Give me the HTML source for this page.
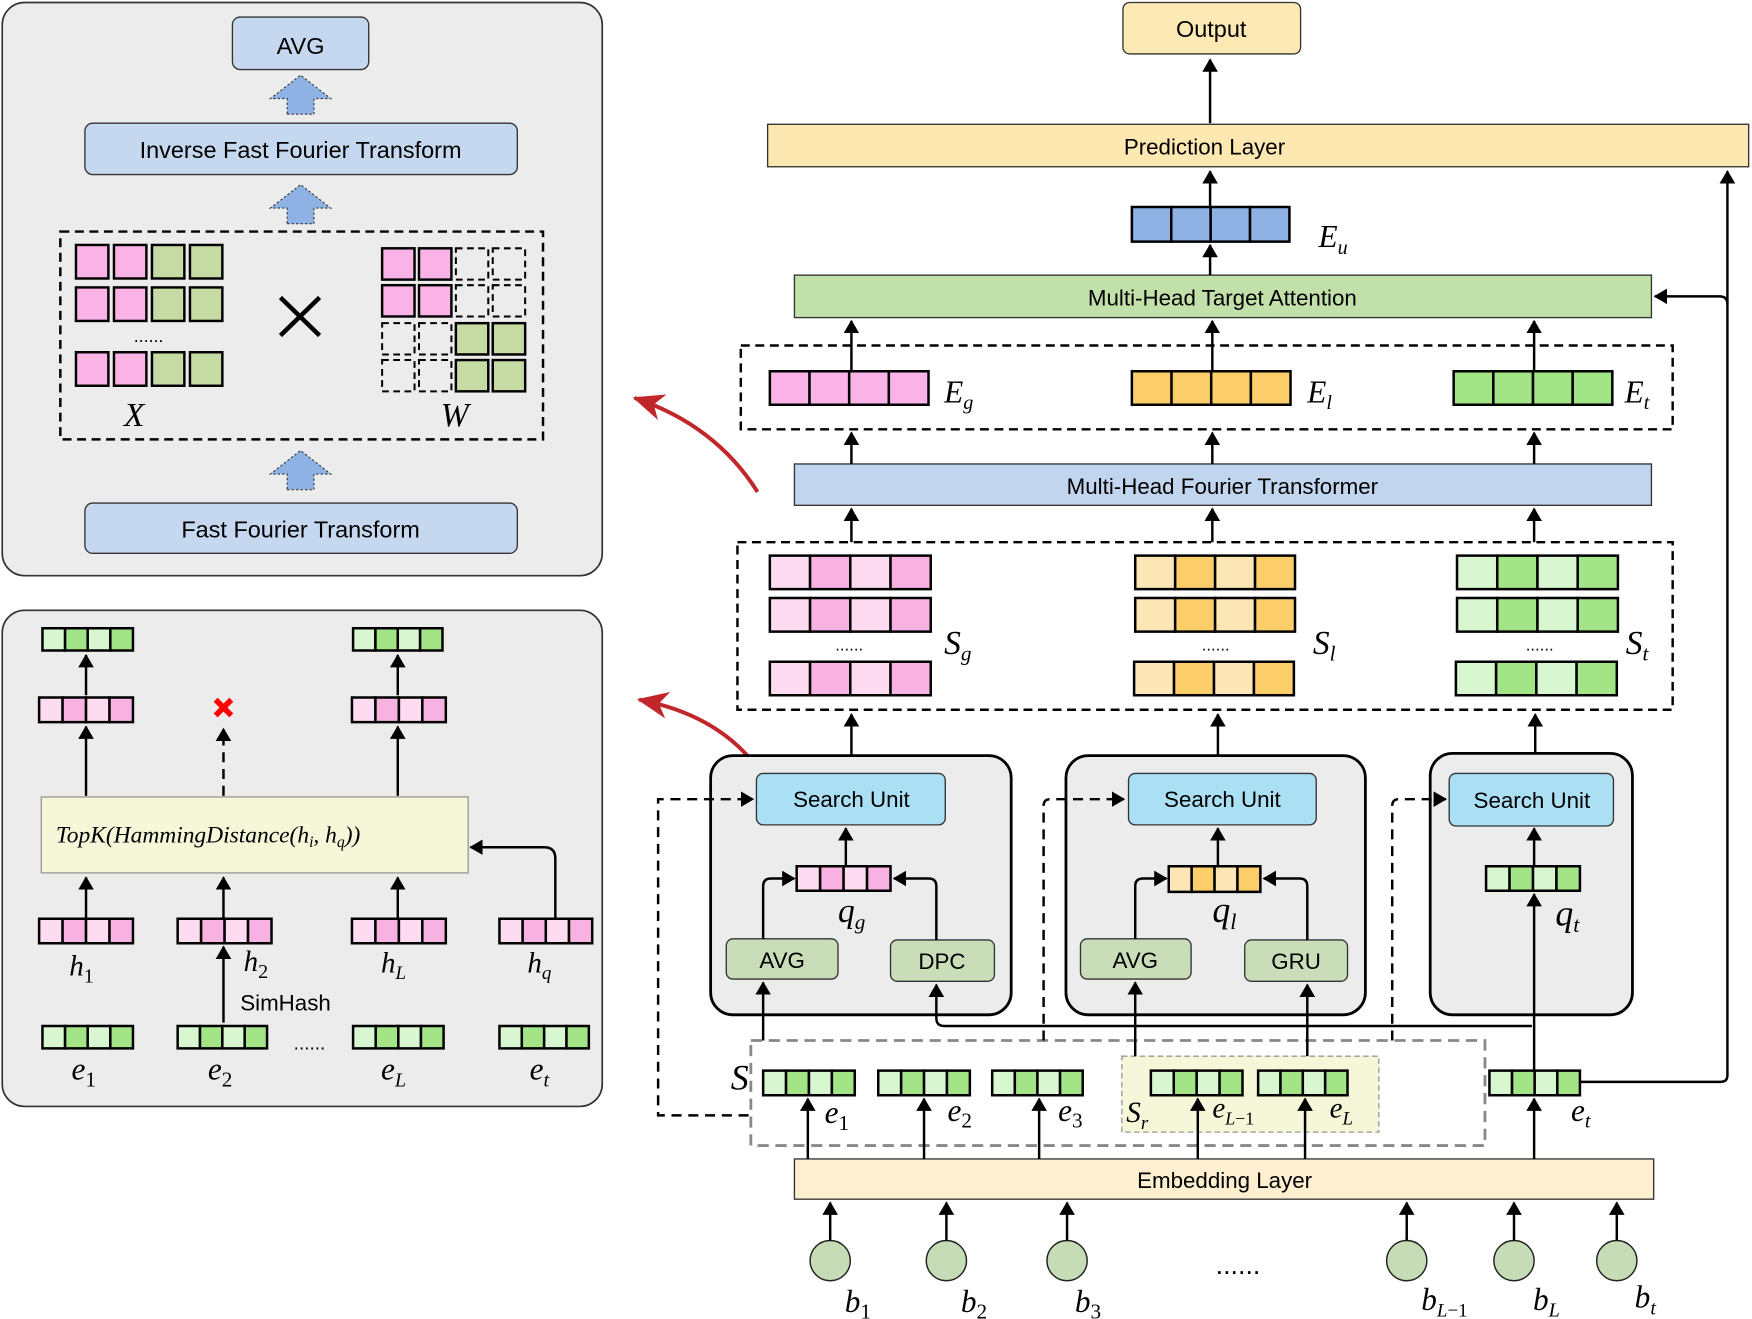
<!DOCTYPE html>
<html><head><meta charset="utf-8"><style>
html,body{margin:0;padding:0;background:#fff;}
svg{display:block;}
text{font-family:"Liberation Sans",sans-serif;fill:#000;}
.m{font-family:"Liberation Serif",serif;font-style:italic;}
symbol{overflow:visible;}
</style></head><body>
<svg width="1752" height="1319" viewBox="0 0 1568 1180" xmlns="http://www.w3.org/2000/svg">
<defs>
<marker id="a" markerUnits="userSpaceOnUse" markerWidth="12" markerHeight="16" refX="11" refY="7" orient="auto"><path d="M0,0 L12,7 L0,14 z" fill="#000"/></marker>
<marker id="r" markerUnits="userSpaceOnUse" markerWidth="30" markerHeight="26" refX="26" refY="12" orient="auto"><path d="M0,0 L28,12 L0,24 L8,12 z" fill="#c0262a"/></marker>
<symbol id="vg" viewBox="0 0 4 1" preserveAspectRatio="none"><g stroke="#000" stroke-width="2.5" vector-effect="non-scaling-stroke"><rect x="0" width="1" height="1" fill="#d8f6cf" vector-effect="non-scaling-stroke"/><rect x="1" width="1" height="1" fill="#a3e486" vector-effect="non-scaling-stroke"/><rect x="2" width="1" height="1" fill="#d8f6cf" vector-effect="non-scaling-stroke"/><rect x="3" width="1" height="1" fill="#a3e486" vector-effect="non-scaling-stroke"/></g></symbol>
<symbol id="vp" viewBox="0 0 4 1" preserveAspectRatio="none"><g stroke="#000" stroke-width="2.5"><rect x="0" width="1" height="1" fill="#fddcf2" vector-effect="non-scaling-stroke"/><rect x="1" width="1" height="1" fill="#f8b2e2" vector-effect="non-scaling-stroke"/><rect x="2" width="1" height="1" fill="#fddcf2" vector-effect="non-scaling-stroke"/><rect x="3" width="1" height="1" fill="#f8b2e2" vector-effect="non-scaling-stroke"/></g></symbol>
<symbol id="vo" viewBox="0 0 4 1" preserveAspectRatio="none"><g stroke="#000" stroke-width="2.5"><rect x="0" width="1" height="1" fill="#fde6b5" vector-effect="non-scaling-stroke"/><rect x="1" width="1" height="1" fill="#fbce6a" vector-effect="non-scaling-stroke"/><rect x="2" width="1" height="1" fill="#fde6b5" vector-effect="non-scaling-stroke"/><rect x="3" width="1" height="1" fill="#fbce6a" vector-effect="non-scaling-stroke"/></g></symbol>
<symbol id="sp" viewBox="0 0 4 1" preserveAspectRatio="none"><g stroke="#000" stroke-width="2.5" fill="#f9b3e6"><rect x="0" width="1" height="1" vector-effect="non-scaling-stroke"/><rect x="1" width="1" height="1" vector-effect="non-scaling-stroke"/><rect x="2" width="1" height="1" vector-effect="non-scaling-stroke"/><rect x="3" width="1" height="1" vector-effect="non-scaling-stroke"/></g></symbol>
<symbol id="so" viewBox="0 0 4 1" preserveAspectRatio="none"><g stroke="#000" stroke-width="2.5" fill="#fbce6a"><rect x="0" width="1" height="1" vector-effect="non-scaling-stroke"/><rect x="1" width="1" height="1" vector-effect="non-scaling-stroke"/><rect x="2" width="1" height="1" vector-effect="non-scaling-stroke"/><rect x="3" width="1" height="1" vector-effect="non-scaling-stroke"/></g></symbol>
<symbol id="sg" viewBox="0 0 4 1" preserveAspectRatio="none"><g stroke="#000" stroke-width="2.5" fill="#a3e486"><rect x="0" width="1" height="1" vector-effect="non-scaling-stroke"/><rect x="1" width="1" height="1" vector-effect="non-scaling-stroke"/><rect x="2" width="1" height="1" vector-effect="non-scaling-stroke"/><rect x="3" width="1" height="1" vector-effect="non-scaling-stroke"/></g></symbol>
<symbol id="sb" viewBox="0 0 4 1" preserveAspectRatio="none"><g stroke="#000" stroke-width="2.5" fill="#8db2e3"><rect x="0" width="1" height="1" vector-effect="non-scaling-stroke"/><rect x="1" width="1" height="1" vector-effect="non-scaling-stroke"/><rect x="2" width="1" height="1" vector-effect="non-scaling-stroke"/><rect x="3" width="1" height="1" vector-effect="non-scaling-stroke"/></g></symbol>
<path id="ba" d="M-12,0 L12,0 L12,-14 L27,-14 L0,-35 L-27,-14 L-12,-14 z" fill="#8db2e3" stroke="#333" stroke-width="1" stroke-dasharray="2,2"/>
</defs>

<!-- ===== Top-left panel ===== -->
<rect x="2" y="2" width="537" height="513" rx="20" fill="#ececec" stroke="#333" stroke-width="1.5"/>
<rect x="208" y="15" width="122" height="47" rx="7" fill="#c5d8ef" stroke="#333" stroke-width="1.2"/>
<text x="269" y="48" font-size="21" text-anchor="middle">AVG</text>
<use href="#ba" transform="translate(269,102)"/>
<rect x="76" y="110" width="387" height="46" rx="7" fill="#c5d8ef" stroke="#333" stroke-width="1.2"/>
<text x="269" y="141" font-size="21" text-anchor="middle">Inverse Fast Fourier Transform</text>
<use href="#ba" transform="translate(269,200)"/>
<rect x="54" y="207" width="432" height="186" fill="none" stroke="#000" stroke-width="2.2" stroke-dasharray="8,5"/>
<g stroke="#000" stroke-width="2.2">
<rect x="68" y="219" width="29" height="30" fill="#f9b3e6"/><rect x="102" y="219" width="29" height="30" fill="#f9b3e6"/><rect x="136" y="219" width="29" height="30" fill="#c6dba4"/><rect x="170" y="219" width="29" height="30" fill="#c6dba4"/>
<rect x="68" y="257" width="29" height="30" fill="#f9b3e6"/><rect x="102" y="257" width="29" height="30" fill="#f9b3e6"/><rect x="136" y="257" width="29" height="30" fill="#c6dba4"/><rect x="170" y="257" width="29" height="30" fill="#c6dba4"/>
<rect x="68" y="315" width="29" height="30" fill="#f9b3e6"/><rect x="102" y="315" width="29" height="30" fill="#f9b3e6"/><rect x="136" y="315" width="29" height="30" fill="#c6dba4"/><rect x="170" y="315" width="29" height="30" fill="#c6dba4"/>
<rect x="342" y="222" width="29" height="28" fill="#f9b3e6"/><rect x="375" y="222" width="29" height="28" fill="#f9b3e6"/>
<rect x="342" y="255" width="29" height="28" fill="#f9b3e6"/><rect x="375" y="255" width="29" height="28" fill="#f9b3e6"/>
<rect x="408" y="289" width="29" height="28" fill="#c6dba4"/><rect x="441" y="289" width="29" height="28" fill="#c6dba4"/>
<rect x="408" y="322" width="29" height="28" fill="#c6dba4"/><rect x="441" y="322" width="29" height="28" fill="#c6dba4"/>
</g>
<g stroke="#000" stroke-width="1.8" fill="none" stroke-dasharray="6,4">
<rect x="408" y="222" width="29" height="28"/><rect x="441" y="222" width="29" height="28"/>
<rect x="408" y="255" width="29" height="28"/><rect x="441" y="255" width="29" height="28"/>
<rect x="342" y="289" width="29" height="28"/><rect x="375" y="289" width="29" height="28"/>
<rect x="342" y="322" width="29" height="28"/><rect x="375" y="322" width="29" height="28"/>
</g>
<text x="133" y="306" font-size="16" text-anchor="middle">......</text>
<path d="M251,266 L286,300 M286,266 L251,300" stroke="#000" stroke-width="4"/>
<text x="120" y="381" font-size="30" class="m" text-anchor="middle">X</text>
<text x="407" y="381" font-size="30" class="m" text-anchor="middle">W</text>
<use href="#ba" transform="translate(269,438)"/>
<rect x="76" y="450" width="387" height="45" rx="7" fill="#c5d8ef" stroke="#333" stroke-width="1.2"/>
<text x="269" y="481" font-size="21" text-anchor="middle">Fast Fourier Transform</text>

<!-- ===== Bottom-left panel ===== -->
<rect x="2" y="546" width="537" height="444" rx="20" fill="#ececec" stroke="#333" stroke-width="1.5"/>
<use href="#vg" x="38" y="562" width="81" height="20"/>
<use href="#vg" x="316" y="562" width="80" height="20"/>
<use href="#vp" x="35" y="624" width="84" height="22"/>
<use href="#vp" x="315" y="624" width="84" height="22"/>
<path d="M193,626 L207,640 M207,626 L193,640" stroke="#f00" stroke-width="5"/>
<g stroke="#000" stroke-width="2.2" fill="none" marker-end="url(#a)">
<path d="M77,622 L77,586"/><path d="M356,622 L356,586"/>
<path d="M77,712 L77,650"/><path d="M356,712 L356,650"/>
<path d="M200,712 L200,652" stroke-dasharray="9,6"/>
<path d="M77,822 L77,785"/><path d="M200,822 L200,785"/><path d="M356,822 L356,785"/>
<path d="M200,915 L200,847"/>
<path d="M497,822 L497,768 Q497,758 487,758 L421,758"/>
</g>
<rect x="37" y="713" width="382" height="68" fill="#f6f6d8" stroke="#999" stroke-width="1.2"/>
<text x="50" y="754" font-size="21" class="m">TopK(HammingDistance(h<tspan font-size="14" dy="4">i</tspan><tspan dy="-4">, h</tspan><tspan font-size="14" dy="4">q</tspan><tspan dy="-4">))</tspan></text>
<use href="#vp" x="35" y="822" width="84" height="22"/>
<use href="#vp" x="159" y="822" width="84" height="22"/>
<use href="#vp" x="315" y="822" width="84" height="22"/>
<use href="#vp" x="447" y="822" width="83" height="22"/>
<text x="62" y="873" font-size="26" class="m">h<tspan font-size="18" dy="6" font-style="normal">1</tspan></text>
<text x="218" y="869" font-size="26" class="m">h<tspan font-size="18" dy="6" font-style="normal">2</tspan></text>
<text x="341" y="870" font-size="26" class="m">h<tspan font-size="17" dy="6">L</tspan></text>
<text x="472" y="870" font-size="26" class="m">h<tspan font-size="17" dy="6">q</tspan></text>
<text x="215" y="904" font-size="20">SimHash</text>
<use href="#vg" x="38" y="918" width="81" height="20"/>
<use href="#vg" x="159" y="918" width="80" height="20"/>
<use href="#vg" x="316" y="918" width="81" height="20"/>
<use href="#vg" x="447" y="918" width="80" height="20"/>
<text x="277" y="939" font-size="17" text-anchor="middle">......</text>
<text x="64" y="966" font-size="28" class="m">e<tspan font-size="19" dy="6" font-style="normal">1</tspan></text>
<text x="186" y="966" font-size="28" class="m">e<tspan font-size="19" dy="6" font-style="normal">2</tspan></text>
<text x="341" y="966" font-size="28" class="m">e<tspan font-size="18" dy="6">L</tspan></text>
<text x="474" y="966" font-size="28" class="m">e<tspan font-size="18" dy="6">t</tspan></text>

<!-- red arrows -->
<path d="M678,440 Q640,380 568,356" fill="none" stroke="#c0262a" stroke-width="3.5" marker-end="url(#r)"/>
<path d="M680,690 Q645,640 572,626" fill="none" stroke="#c0262a" stroke-width="3.5" marker-end="url(#r)"/>

<!-- ===== Right main ===== -->
<rect x="1005" y="2" width="159" height="46" rx="6" fill="#fce9b3" stroke="#333" stroke-width="1.2"/>
<text x="1084" y="33" font-size="21" text-anchor="middle">Output</text>
<rect x="687" y="111" width="878" height="38" fill="#fde8b2" stroke="#333" stroke-width="1.2"/>
<text x="1078" y="138" font-size="20" text-anchor="middle">Prediction Layer</text>
<use href="#sb" x="1013" y="185" width="141" height="31"/>
<text x="1180" y="221" font-size="28" class="m">E<tspan font-size="18" dy="6">u</tspan></text>
<rect x="711" y="246" width="767" height="38" fill="#c1e0aa" stroke="#333" stroke-width="1.2"/>
<text x="1094" y="273" font-size="20" text-anchor="middle">Multi-Head Target Attention</text>
<rect x="663" y="309" width="834" height="75" fill="none" stroke="#000" stroke-width="2.2" stroke-dasharray="8,5"/>
<use href="#sp" x="689" y="332" width="142" height="30"/>
<use href="#so" x="1013" y="332" width="142" height="30"/>
<use href="#sg" x="1301" y="332" width="142" height="30"/>
<text x="845" y="360" font-size="28" class="m">E<tspan font-size="18" dy="6">g</tspan></text>
<text x="1170" y="360" font-size="28" class="m">E<tspan font-size="18" dy="6">l</tspan></text>
<text x="1454" y="360" font-size="28" class="m">E<tspan font-size="18" dy="6">t</tspan></text>
<rect x="711" y="415" width="767" height="37" fill="#c1d6ee" stroke="#333" stroke-width="1.2"/>
<text x="1094" y="442" font-size="20" text-anchor="middle">Multi-Head Fourier Transformer</text>
<rect x="660" y="485" width="837" height="150" fill="none" stroke="#000" stroke-width="2.2" stroke-dasharray="8,5"/>
<use href="#vp" x="689" y="497" width="144" height="30"/>
<use href="#vp" x="689" y="535" width="144" height="30"/>
<use href="#vp" x="689" y="592" width="144" height="30"/>
<use href="#vo" x="1016" y="497" width="143" height="30"/>
<use href="#vo" x="1016" y="535" width="143" height="30"/>
<use href="#vo" x="1015" y="592" width="143" height="30"/>
<use href="#vg" x="1304" y="497" width="144" height="30"/>
<use href="#vg" x="1304" y="535" width="144" height="30"/>
<use href="#vg" x="1303" y="592" width="144" height="30"/>
<text x="760" y="582" font-size="15" text-anchor="middle">......</text>
<text x="1088" y="582" font-size="15" text-anchor="middle">......</text>
<text x="1378" y="582" font-size="15" text-anchor="middle">......</text>
<text x="845" y="585" font-size="30" class="m">S<tspan font-size="19" dy="6">g</tspan></text>
<text x="1175" y="585" font-size="30" class="m">S<tspan font-size="19" dy="6">l</tspan></text>
<text x="1455" y="585" font-size="30" class="m">S<tspan font-size="19" dy="6">t</tspan></text>

<!-- search containers -->
<rect x="636" y="676" width="269" height="232" rx="20" fill="#ececec" stroke="#000" stroke-width="2.5"/>
<rect x="954" y="676" width="268" height="232" rx="20" fill="#ececec" stroke="#000" stroke-width="2.5"/>
<rect x="1280" y="674" width="181" height="234" rx="20" fill="#ececec" stroke="#000" stroke-width="2.5"/>
<g stroke="#333" stroke-width="1.2">
<rect x="677" y="692" width="169" height="46" rx="6" fill="#abdff4"/>
<rect x="1010" y="692" width="168" height="46" rx="6" fill="#abdff4"/>
<rect x="1297" y="692" width="147" height="47" rx="6" fill="#abdff4"/>
<rect x="650" y="840" width="100" height="36" rx="6" fill="#c8ddb8"/>
<rect x="797" y="841" width="93" height="37" rx="6" fill="#c8ddb8"/>
<rect x="967" y="840" width="99" height="36" rx="6" fill="#c8ddb8"/>
<rect x="1114" y="841" width="92" height="37" rx="6" fill="#c8ddb8"/>
</g>
<g font-size="20" text-anchor="middle">
<text x="762" y="722">Search Unit</text><text x="1094" y="722">Search Unit</text><text x="1371" y="723">Search Unit</text>
<text x="700" y="866">AVG</text><text x="843" y="867">DPC</text><text x="1016" y="866">AVG</text><text x="1160" y="867">GRU</text>
</g>
<use href="#vp" x="713" y="775" width="84" height="22"/>
<use href="#vo" x="1046" y="775" width="82" height="23"/>
<use href="#vg" x="1330" y="775" width="84" height="22"/>
<text x="750" y="825" font-size="30" class="m">q<tspan font-size="19" dy="6">g</tspan></text>
<text x="1085" y="825" font-size="32" class="m">q<tspan font-size="20" dy="6">l</tspan></text>
<text x="1392" y="828" font-size="32" class="m">q<tspan font-size="20" dy="6">t</tspan></text>

<!-- S region -->
<rect x="672" y="931" width="657" height="94" fill="none" stroke="#888" stroke-width="2.5" stroke-dasharray="10,6"/>
<rect x="1004" y="945" width="230" height="68" fill="#f6f6d8" stroke="#999" stroke-width="1.2" stroke-dasharray="5,3"/>
<text x="654" y="975" font-size="32" class="m">S</text>
<use href="#vg" x="683" y="958" width="82" height="22"/>
<use href="#vg" x="786" y="958" width="82" height="22"/>
<use href="#vg" x="888" y="958" width="81" height="22"/>
<use href="#vg" x="1030" y="958" width="82" height="22"/>
<use href="#vg" x="1126" y="958" width="80" height="22"/>
<use href="#vg" x="1333" y="958" width="81" height="22"/>
<text x="738" y="1005" font-size="28" class="m">e<tspan font-size="19" dy="6" font-style="normal">1</tspan></text>
<text x="848" y="1003" font-size="28" class="m">e<tspan font-size="19" dy="6" font-style="normal">2</tspan></text>
<text x="947" y="1003" font-size="28" class="m">e<tspan font-size="19" dy="6" font-style="normal">3</tspan></text>
<text x="1008" y="1004" font-size="26" class="m">S<tspan font-size="17" dy="6">r</tspan></text>
<text x="1085" y="1000" font-size="26" class="m">e<tspan font-size="16" dy="6">L</tspan><tspan font-size="16" font-style="normal">−1</tspan></text>
<text x="1190" y="1000" font-size="26" class="m">e<tspan font-size="17" dy="6">L</tspan></text>
<text x="1406" y="1003" font-size="28" class="m">e<tspan font-size="18" dy="6">t</tspan></text>

<rect x="711" y="1037" width="769" height="36" fill="#fdefcf" stroke="#333" stroke-width="1.2"/>
<text x="1096" y="1063" font-size="20" text-anchor="middle">Embedding Layer</text>
<g fill="#c5dcb6" stroke="#222" stroke-width="1.3">
<circle cx="743" cy="1128" r="18"/><circle cx="847" cy="1128" r="18"/><circle cx="955" cy="1128" r="18"/>
<circle cx="1259" cy="1128" r="18"/><circle cx="1355" cy="1128" r="18"/><circle cx="1447" cy="1128" r="18"/>
</g>
<text x="1108" y="1140" font-size="24" text-anchor="middle">......</text>
<text x="756" y="1174" font-size="28" class="m">b<tspan font-size="19" dy="6" font-style="normal">1</tspan></text>
<text x="860" y="1174" font-size="28" class="m">b<tspan font-size="19" dy="6" font-style="normal">2</tspan></text>
<text x="962" y="1174" font-size="28" class="m">b<tspan font-size="19" dy="6" font-style="normal">3</tspan></text>
<text x="1272" y="1172" font-size="28" class="m">b<tspan font-size="17" dy="6">L</tspan><tspan font-size="17" font-style="normal">−1</tspan></text>
<text x="1372" y="1172" font-size="28" class="m">b<tspan font-size="18" dy="6">L</tspan></text>
<text x="1463" y="1170" font-size="28" class="m">b<tspan font-size="18" dy="6">t</tspan></text>

<!-- arrows -->
<g stroke="#000" stroke-width="2.2" fill="none" marker-end="url(#a)">
<path d="M1083,110 L1083,53"/>
<path d="M1083,184 L1083,153"/>
<path d="M1083,246 L1083,219"/>
<path d="M762,332 L762,287"/><path d="M1085,332 L1085,287"/><path d="M1373,332 L1373,287"/>
<path d="M762,415 L762,387"/><path d="M1085,415 L1085,387"/><path d="M1373,415 L1373,387"/>
<path d="M762,485 L762,455"/><path d="M1085,485 L1085,455"/><path d="M1373,485 L1373,455"/>
<path d="M762,676 L762,639"/><path d="M1090,676 L1090,639"/><path d="M1374,674 L1374,639"/>
<path d="M757,774 L757,741"/><path d="M1090,774 L1090,741"/><path d="M1373,774 L1373,741"/>
<path d="M683,840 L683,793 Q683,786 690,786 L711,786"/>
<path d="M838,841 L838,793 Q838,786 831,786 L800,786"/>
<path d="M1016,840 L1016,793 Q1016,786 1023,786 L1044,786"/>
<path d="M1170,841 L1170,793 Q1170,786 1163,786 L1131,786"/>
<path d="M683,931 L683,879"/>
<path d="M1371,918 L845,918 Q838,918 838,911 L838,881"/>
<path d="M1016,945 L1016,879"/>
<path d="M1170,945 L1170,881"/>
<path d="M1373,958 L1373,800"/>
<path d="M1414,968 L1540,968 Q1546,968 1546,962 L1546,153"/>
<path d="M1546,272 Q1546,265 1539,265 L1481,265"/>
<path d="M723,1037 L723,983"/><path d="M827,1037 L827,983"/><path d="M930,1037 L930,983"/>
<path d="M1072,1037 L1072,983"/><path d="M1168,1037 L1168,983"/><path d="M1373,1037 L1373,983"/>
<path d="M743,1110 L743,1076"/><path d="M847,1110 L847,1076"/><path d="M955,1110 L955,1076"/>
<path d="M1259,1110 L1259,1076"/><path d="M1355,1110 L1355,1076"/><path d="M1447,1110 L1447,1076"/>
</g>
<g stroke="#000" stroke-width="2.2" fill="none" stroke-dasharray="9,6" marker-end="url(#a)">
<path d="M670,998 L589,998 L589,715 L674,715"/>
<path d="M934,931 L934,721 Q934,715 940,715 L1006,715"/>
<path d="M1246,931 L1246,721 Q1246,715 1252,715 L1294,715"/>
</g>
</svg>
</body></html>
